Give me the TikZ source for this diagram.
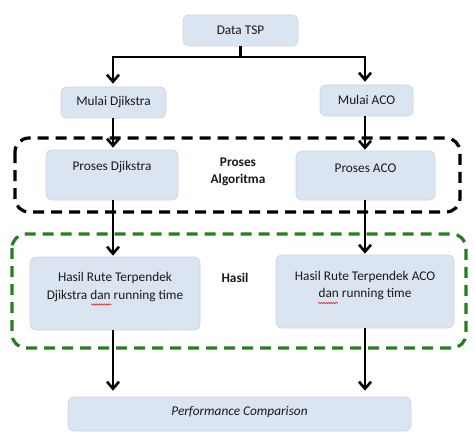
\documentclass[tikz,border=0pt]{standalone}
\usepackage{fontspec}
\setmainfont{Carlito}
\usetikzlibrary{arrows.meta,decorations.pathmorphing}
\definecolor{boxfill}{RGB}{219,229,241}
\definecolor{boxedge}{RGB}{200,213,232}
\definecolor{grn}{RGB}{34,128,34}
\definecolor{squig}{RGB}{220,40,40}
\tikzset{
  box/.style={draw=boxedge,line width=0.6pt,fill=boxfill,rounded corners=6pt,inner sep=0pt},
  txt/.style={font=\fontsize{13.3}{17.5}\selectfont,align=center,inner sep=0pt,text=black!90},
  btxt/.style={txt,font=\fontsize{13.3}{17}\selectfont\bfseries},
  arr/.style={line width=2.8pt,-{Straight Barb[length=7pt,width=12pt,line width=2.6pt]}},
  ln/.style={line width=2.8pt},
  grp/.style={line width=3.2pt,rounded corners=14pt,dash pattern=on 11pt off 7pt},
  sq/.style={squig,line width=0.6pt,decorate,decoration={snake,amplitude=0.7pt,segment length=2.5pt}}
}
\begin{document}
\begin{tikzpicture}[x=1pt,y=-1pt]
\useasboundingbox (0,0) rectangle (474,444);
\fill[white] (0,0) rectangle (474,444);
% group frames
\draw[grp,black] (15,138) rectangle (460,212);
\draw[grp,grn] (12,234) rectangle (466,348);
% boxes
\node[box,minimum width=115pt,minimum height=31pt] (dt) at (240.5,30.5) {};
\node[txt] (dtt) at (240.5,30) {Data TSP};
\node[box,minimum width=105pt,minimum height=31pt] (md) at (113.5,102.5) {};
\node[txt] (mdt) at (113.5,102) {Mulai Djikstra};
\node[box,minimum width=93pt,minimum height=31pt] (ma) at (366.5,100.5) {};
\node[txt] (mat) at (366.5,100) {Mulai ACO};
\node[box,minimum width=132pt,minimum height=50pt] (pd) at (112,175) {};
\node[txt] (pdt) at (112,167.5) {Proses Djikstra};
\node[box,minimum width=139pt,minimum height=49pt] (pa) at (365.5,175.5) {};
\node[txt] (pat) at (365.5,168) {Proses ACO};
\node[btxt] (pal) at (238,171.5) {Proses\\Algoritma};
\node[box,minimum width=170pt,minimum height=73pt] (hd) at (115,293.5) {};
\node[txt] (hdt) at (115,287) {Hasil Rute Terpendek\\Djikstra dan running time};
\node[box,minimum width=178pt,minimum height=73pt] (ha) at (365,291.5) {};
\node[txt] (hat) at (365,285.5) {Hasil Rute Terpendek ACO\\dan running time};
\node[btxt] (hl) at (235,278) {Hasil};
\node[box,minimum width=343pt,minimum height=34pt] (pc) at (239.5,414) {};
\node[txt,font=\fontsize{13.3}{16}\selectfont\itshape] (pct) at (239.5,412) {Performance Comparison};
% spell-check underlines
\draw[sq] (91,304.5) -- (111,304.5);
\draw[sq] (318,303) -- (338,303);
% connectors
\coordinate (j) at (240.5,57);
\coordinate (jl) at (113,57);
\coordinate (jr) at (365,57);
\draw[ln] (dt.south) -- (j);
\draw[ln,line cap=rect] (jl) -- (jr);
\draw[arr,shorten >=3pt] (jl) -- (jl |- md.north);
\draw[arr,shorten >=3pt] (jr) -- (jr |- ma.north);
\draw[arr,shorten >=2pt] (md.south -| jl) -- (jl |- pd.north);
\draw[arr,shorten >=1pt] (ma.south -| jr) -- (jr |- pa.north);
\draw[arr,shorten >=1pt] (pd.south -| jl) -- (jl |- hd.north);
\draw[arr,shorten >=1pt] (pa.south -| jr) -- (jr |- ha.north);
\draw[arr,shorten >=6pt] (hd.south -| jl) -- (jl |- pc.north);
\draw[arr,shorten >=6pt] (ha.south -| jr) -- (jr |- pc.north);
\end{tikzpicture}
\end{document}
